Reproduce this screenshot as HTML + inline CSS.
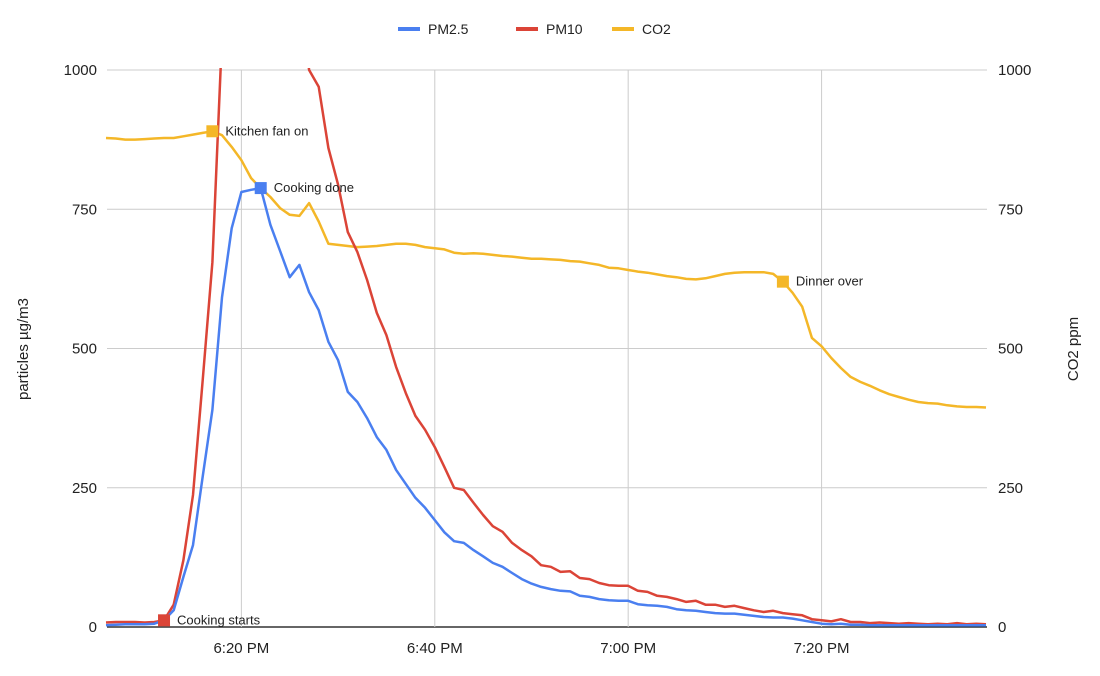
<!DOCTYPE html>
<html><head><meta charset="utf-8"><style>
body{margin:0;background:#fff;font-family:"Liberation Sans",Arial,sans-serif;}
svg text{font-family:"Liberation Sans",Arial,sans-serif;}
</style></head><body>
<svg id="chart" width="1100" height="671" viewBox="0 0 1100 671" xmlns="http://www.w3.org/2000/svg">
<defs><clipPath id="plotclip"><rect x="100" y="68" width="895" height="562"/></clipPath></defs>
<g id="grid"></g>
<g id="series" clip-path="url(#plotclip)"></g>
<g id="marks"></g>
<g id="labels"></g>
<g id="legend">
 <line x1="398" y1="29" x2="420" y2="29" stroke="#4a7ff0" stroke-width="4"/>
 <text x="428" y="34" font-size="14" fill="#222">PM2.5</text>
 <line x1="516" y1="29" x2="538" y2="29" stroke="#db4437" stroke-width="4"/>
 <text x="546" y="34" font-size="14" fill="#222">PM10</text>
 <line x1="612" y1="29" x2="634" y2="29" stroke="#f4b728" stroke-width="4"/>
 <text x="642" y="34" font-size="14" fill="#222">CO2</text>
</g>
<text x="28" y="349" font-size="15" fill="#222" text-anchor="middle" transform="rotate(-90 28 349)">particles µg/m3</text>
<text x="1078" y="349" font-size="15" fill="#222" text-anchor="middle" transform="rotate(-90 1078 349)">CO2 ppm</text>
</svg>
<script>
const startMinute = 6*60+6;
const yTicks = [0,250,500,750,1000];
const xTickMinutes = [380,400,420,440];
const xTickLabels = ["6:20 PM","6:40 PM","7:00 PM","7:20 PM"];
const pm25 = [3,4,5,5,5,6,12,30,90,147,270,390,592,716,781,785,788,722,675,628,650,601,569,512,479,422,404,375,341,318,282,257,232,214,192,170,154,151,138,127,115,108,97,86,78,72,68,65,64,56,54,50,48,47,47,41,39,38,36,32,30,29,27,25,24,24,22,20,18,17,17,15,12,9,6,5,6,4,4,3,3,3,3,3,3,3,3,3,3,3,3,3];
const pm10 = [8,9,9,9,8,9,12,40,120,237,443,655,1060,1300,1500,1600,1600,1500,1400,1300,1150,1000,970,860,794,709,673,623,564,524,467,420,379,354,323,287,250,246,223,201,181,171,151,138,127,111,108,99,100,88,86,79,75,74,74,65,63,56,54,50,45,47,40,40,36,38,34,30,27,29,25,23,21,14,12,10,14,9,9,7,8,7,6,7,6,5,6,5,7,5,6,5];
const co2 = [878,877,875,875,876,877,878,878,881,884,887,890,883,862,838,806,788,772,752,740,738,761,728,688,686,684,682,683,684,686,688,688,686,682,680,678,672,670,671,670,668,666,665,663,661,661,660,659,657,656,653,650,645,644,641,638,636,633,630,628,625,624,626,630,634,636,637,637,637,634,620,600,575,519,504,483,465,449,440,433,425,418,413,408,404,402,401,398,396,395,395,394];
const annotations = [
 {series:"pm10", idx:6, label:"Cooking starts", color:"#db4437"},
 {series:"co2", idx:11, label:"Kitchen fan on", color:"#f4b728"},
 {series:"pm25", idx:16, label:"Cooking done", color:"#4a7ff0"},
 {series:"co2", idx:70, label:"Dinner over", color:"#f4b728"}
];
const NS="http://www.w3.org/2000/svg";
const X0=106, PXMIN=9.67, Y0=627, PXV=0.557;
function xs(i){return X0+i*PXMIN;}
function xm(m){return X0+(m-startMinute)*PXMIN;}
function ys(v){return Y0-v*PXV;}
function mk(tag,attrs,parent){const e=document.createElementNS(NS,tag);for(const k in attrs)e.setAttribute(k,attrs[k]);parent.appendChild(e);return e;}
const grid=document.getElementById('grid'),ser=document.getElementById('series'),marks=document.getElementById('marks'),labels=document.getElementById('labels');
yTicks.forEach(t=>{
 const l=mk('line',{x1:107,x2:987,y1:ys(t),y2:ys(t),stroke:t===0?'#333':'#ccc','stroke-width':t===0?1.5:1},grid);
 
 
 const a=mk('text',{x:97,y:ys(t)+5,'font-size':15,fill:'#222','text-anchor':'end'},labels);a.textContent=t;
 
 
 const b=mk('text',{x:998,y:ys(t)+5,'font-size':15,fill:'#222'},labels);b.textContent=t;
 
 
});
xTickMinutes.forEach((m,i)=>{
 const l=mk('line',{x1:xm(m),x2:xm(m),y1:70,y2:627,stroke:'#ccc','stroke-width':1},grid);
 
 
 const t=mk('text',{x:xm(m),y:653,'font-size':15,fill:'#222','text-anchor':'middle'},labels);t.textContent=xTickLabels[i];
 
 
});
const seriesDefs={pm25:{data:pm25,color:'#4a7ff0'},pm10:{data:pm10,color:'#db4437'},co2:{data:co2,color:'#f4b728'}};
['co2','pm10','pm25'].forEach(k=>{
 const d=seriesDefs[k].data.map((v,i)=>(i?'L':'M')+xs(i).toFixed(1)+','+ys(v).toFixed(1)).join('');
 const p=mk('path',{d:d,fill:'none',stroke:seriesDefs[k].color,'stroke-width':2.5,'stroke-linejoin':'round'},ser);
 
 
});
annotations.forEach(a=>{
 const v=seriesDefs[a.series].data[a.idx];
 const r=mk('rect',{x:xs(a.idx)-6,y:ys(v)-6,width:12,height:12,fill:a.color},marks);
 
 
 const t=mk('text',{x:xs(a.idx)+13,y:ys(v)+4,'font-size':13,fill:'#222'},marks);t.textContent=a.label;
 
 
});
</script>
</body></html>
